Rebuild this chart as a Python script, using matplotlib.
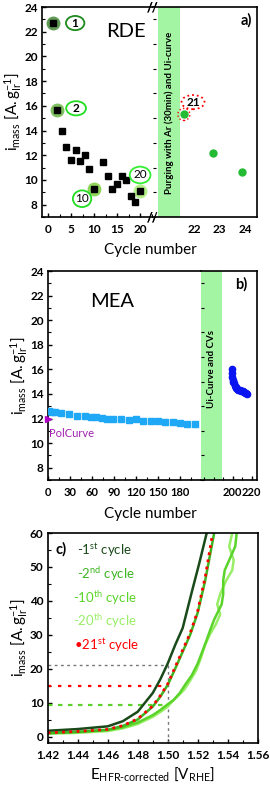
import matplotlib
matplotlib.use("Agg")
import matplotlib.pyplot as plt
from matplotlib.patches import Ellipse
from matplotlib.ticker import AutoMinorLocator, MultipleLocator, FormatStrFormatter

plt.rcParams['font.family'] = ['Lato', 'DejaVu Sans']
plt.rcParams['mathtext.fontset'] = 'custom'
plt.rcParams['mathtext.rm'] = 'Lato'
plt.rcParams['mathtext.it'] = 'Lato:italic'
plt.rcParams['mathtext.bf'] = 'Lato:bold'

# ---- panel a) RDE ----
rde_cycles = [1, 2, 3, 4, 5, 6, 7, 8, 9, 10, 12, 13, 14, 15, 16, 17, 18, 19, 20]
rde_imass = [22.7, 15.7, 14.0, 12.65, 11.6, 12.45, 11.55, 12.0, 10.9, 9.3,
             11.45, 10.3, 9.25, 9.7, 10.3, 10.0, 8.7, 8.25, 9.1]
rde_marked = [1, 2, 10, 20]
rde_after_cycles = [21.6, 22.75, 23.9]
rde_after_imass = [15.3, 12.2, 10.65]

# ---- panel b) MEA ----
mea_cycles = [1, 5, 10, 18, 28, 40, 50, 58, 66, 73, 80, 89, 99, 110, 120,
              130, 140, 150, 160, 170, 180, 190, 200]
mea_imass = [12.6, 12.55, 12.5, 12.44, 12.33, 12.17, 12.17, 12.14, 12.09, 12.03,
             11.98, 11.98, 11.95, 11.9, 11.95, 11.81, 11.79, 11.76, 11.71, 11.68,
             11.63, 11.57, 11.57]
mea_after_cycles = [199, 199.3, 199.6, 200, 200.5, 201, 202, 203, 204, 205, 206,
                    207, 208, 209, 210, 211, 212, 213, 214, 215]
mea_after_imass = [16.0, 15.7, 15.4, 15.15, 15.0, 14.85, 14.65, 14.55, 14.45, 14.4,
                   14.35, 14.3, 14.28, 14.25, 14.22, 14.2, 14.15, 14.1, 14.05, 14.0]
polcurve_cycle = [0]
polcurve_imass = [11.95]

# ---- panel c) polarisation curves ----
e_1st = [1.420, 1.440, 1.460, 1.470, 1.480, 1.490, 1.495, 1.500, 1.505, 1.510,
         1.516, 1.521, 1.526]
i_1st = [1.7, 2.2, 3.0, 4.5, 7.3, 12.8, 16.8, 21.5, 27.0, 32.0, 42.5, 51.0, 60.0]
e_2nd = [1.420, 1.440, 1.460, 1.470, 1.480, 1.490, 1.495, 1.500, 1.505, 1.510,
         1.515, 1.520, 1.525, 1.531]
i_2nd = [1.0, 1.4, 2.0, 3.1, 5.0, 8.8, 11.7, 15.2, 20.0, 25.0, 30.0, 36.5, 46.0, 60.0]
e_10th = [1.420, 1.440, 1.460, 1.470, 1.480, 1.490, 1.495, 1.500, 1.504, 1.508,
          1.512, 1.516, 1.520, 1.523, 1.526, 1.528, 1.531, 1.536, 1.537, 1.537,
          1.538, 1.541, 1.545, 1.546]
i_10th = [1.0, 1.3, 1.9, 2.7, 4.1, 6.3, 7.8, 9.5, 10.8, 12.8, 15.5, 18.0, 21.5,
          25.0, 28.5, 31.0, 34.5, 39.0, 42.0, 46.0, 49.0, 52.0, 56.0, 60.0]
e_20th = [1.420, 1.440, 1.460, 1.470, 1.480, 1.490, 1.495, 1.500, 1.503, 1.507,
          1.511, 1.515, 1.519, 1.522, 1.525, 1.528, 1.532, 1.535, 1.533, 1.535,
          1.539, 1.543, 1.544, 1.541, 1.543]
i_20th = [0.8, 1.1, 1.6, 2.4, 3.7, 5.8, 7.2, 8.8, 10.3, 12.0, 13.8, 16.5, 19.5,
          23.0, 27.0, 30.0, 33.0, 36.0, 39.0, 42.0, 46.0, 49.0, 52.0, 56.0, 60.0]
e_21st = [1.420, 1.440, 1.460, 1.470, 1.480, 1.490, 1.495, 1.500, 1.505, 1.510,
          1.515, 1.520, 1.525, 1.530]
i_21st = [1.1, 1.5, 2.1, 3.2, 5.2, 9.0, 12.0, 15.5, 20.5, 25.5, 30.5, 37.0, 47.0, 60.0]
e_ref = 1.50
i_ref_1st, i_ref_21st, i_ref_10th = 21, 15, 9.3

c_1st = '#1a4a1a'
c_2nd = '#3cb521'
c_10th = '#5ad42a'
c_20th = '#98ee66'
band = '#a3f5a3'
ylab = r'$\mathregular{i_{mass}\ [A.g_{Ir}^{-1}]}$'
TICK = 8.5
LAB = 11


def style(ax, xpad=5):
    ax.tick_params(direction='in', length=3, width=1, labelsize=TICK, pad=3)
    ax.tick_params(axis='x', pad=xpad)
    ax.tick_params(which='minor', direction='in', length=2, width=0.8)
    for s in ax.spines.values():
        s.set_linewidth(1.2)
    for lab in ax.get_xticklabels() + ax.get_yticklabels():
        lab.set_fontweight('bold')


def tag(ax, x, y, txt, w, h, col, bold=False, ls='-'):
    ax.add_patch(Ellipse((x, y), w, h, fill=False, ec=col, lw=1.3, ls=ls, zorder=4))
    ax.text(x, y, txt, fontsize=8.5, fontweight='bold' if bold else 'normal',
            ha='center', va='center', zorder=5)


fig = plt.figure(figsize=(2.7, 7.88), dpi=100)
W, H = 270.0, 788.0


def rect(x0, x1, y0, y1):
    return [x0 / W, 1 - y1 / H, (x1 - x0) / W, (y1 - y0) / H]


# ================= a) =================
a1 = fig.add_axes(rect(42, 153, 7, 217))
a2 = fig.add_axes(rect(153, 257, 7, 217), sharey=a1)
a1.set_xlim(-1.3, 22.8)
a2.set_xlim(20.39, 24.47)
a1.set_ylim(7, 24)
halo_cols = ['#5f9b55', '#7dbf5e', '#8fd65a', '#b4f08a']
for cyc, col in zip(rde_marked, halo_cols):
    k = rde_cycles.index(cyc)
    a1.plot(rde_cycles[k], rde_imass[k], 'o', ms=9, color=col, zorder=2)
a1.plot(rde_cycles, rde_imass, 's', ms=4.5, color='black', zorder=3)
a2.axvspan(20.59, 21.45, color=band, lw=0, zorder=0)
a2.plot(rde_after_cycles, rde_after_imass, 'o', ms=5, color='#22bb33', zorder=3)
a2.scatter(rde_after_cycles[:1], rde_after_imass[:1], s=75, facecolors='none',
           edgecolors='red', linewidths=1.0, linestyles=':', zorder=3)

a1.spines['right'].set_visible(False)
a2.spines['left'].set_visible(False)
a2.tick_params(axis='y', left=False, labelleft=False)
a1.xaxis.set_major_locator(MultipleLocator(5))
a1.xaxis.set_minor_locator(AutoMinorLocator(2))
a1.yaxis.set_major_locator(MultipleLocator(2))
a1.yaxis.set_minor_locator(AutoMinorLocator(2))
a2.set_xticks([22, 23, 24])
style(a1)
style(a2)
a2.tick_params(axis='x', length=0)
a1.set_ylabel(ylab, fontsize=LAB, labelpad=0)
fig.text(150 / W, 1 - 250 / H, 'Cycle number', ha='center', va='center', fontsize=LAB)

for ax, xx in ((a1, 1.0), (a2, 0.0)):
    for yy in (0.0, 1.0):
        ax.text(xx, yy, '//', transform=ax.transAxes, ha='center', va='center',
                fontsize=9, fontweight='bold', clip_on=False, zorder=5)

a2.text(21.02, 15.4, 'Purging with Ar (30min) and Ui-curve', rotation=90,
        ha='center', va='center', fontsize=7, fontweight='bold')
a1.text(17.0, 22.05, 'RDE', fontsize=14.5, ha='center', va='center')
a2.text(0.9, 0.935, 'a)', transform=a2.transAxes, fontsize=10.5, fontweight='bold',
        ha='center', va='center')

tag(a1, 5.9, 22.7, '1', 4.0, 1.15, '#1e8a1e', bold=True)
tag(a1, 6.1, 15.8, '2', 4.3, 1.15, '#22dd22', bold=True)
tag(a1, 7.4, 8.48, '10', 4.0, 1.35, '#22dd22')
tag(a1, 20.0, 10.4, '20', 4.5, 1.35, '#33ee33')
tag(a2, 21.96, 16.3, '21', 0.9, 1.15, 'red', bold=True, ls=':')

# ================= b) =================
b1 = fig.add_axes(rect(48, 201, 271, 480))
b2 = fig.add_axes(rect(201, 257, 271, 480), sharey=b1)
b1.set_xlim(0, 208.7)
b2.set_xlim(166.6, 225.6)
b1.set_ylim(7, 24)
b1.plot(mea_cycles, mea_imass, 's', ms=4.5, color='#1ea8f5', zorder=3)
b1.plot(polcurve_cycle, polcurve_imass, '>', ms=5, color='#b000c8', zorder=4,
        clip_on=False)
b1.text(2, 10.8, 'PolCurve', color='#a020b0', fontsize=8, va='center')
b2.axvspan(166.6, 188.7, color=band, lw=0, zorder=0)
b2.plot(mea_after_cycles, mea_after_imass, 'o', ms=4.5, color='#0a14f0', zorder=3)
b2.text(177.6, 16.0, 'Ui-Curve and CVs', rotation=90, ha='center', va='center',
        fontsize=7, fontweight='bold')
b1.spines['right'].set_visible(False)
b2.spines['left'].set_visible(False)
b2.tick_params(axis='y', left=False, labelleft=False)
b1.set_xticks(range(0, 181, 30))
b1.xaxis.set_minor_locator(AutoMinorLocator(2))
b2.set_xticks([200, 220])
b2.xaxis.set_minor_locator(MultipleLocator(10))
b1.yaxis.set_major_locator(MultipleLocator(2))
b1.yaxis.set_minor_locator(AutoMinorLocator(2))
style(b1)
style(b2)
b1.tick_params(axis='x', labelsize=8)
b2.tick_params(axis='x', labelsize=8)
b1.set_ylabel(ylab, fontsize=LAB, labelpad=0)
fig.text(150 / W, 1 - 514 / H, 'Cycle number', ha='center', va='center', fontsize=LAB)
b1.text(0.42, 0.855, 'MEA', transform=b1.transAxes, fontsize=14.5,
        ha='center', va='center')
b2.text(0.72, 0.935, 'b)', transform=b2.transAxes, fontsize=10.5, fontweight='bold',
        ha='center', va='center')

# ================= c) =================
c = fig.add_axes(rect(47.7, 257.7, 533, 743.3))
c.set_xlim(1.42, 1.56)
c.set_ylim(-2, 60)
ybot = c.get_ylim()[0]
c.plot([1.42, e_ref], [i_ref_1st, i_ref_1st], ls=(0, (2, 2.5)), color='#777777', lw=1)
c.plot([e_ref, e_ref], [ybot, i_ref_1st], ls=(0, (2, 2.5)), color='#777777', lw=1)
c.plot([1.42, e_ref - 0.002], [i_ref_21st, i_ref_21st], ls=(0, (1.5, 3)),
       color='red', lw=1.6)
c.plot([1.42, e_ref - 0.003], [i_ref_10th, i_ref_10th], ls=(0, (2, 2.5)),
       color=c_10th, lw=1.6)
c.plot(e_20th, i_20th, color=c_20th, lw=1.8)
c.plot(e_10th, i_10th, color=c_10th, lw=1.8)
c.plot(e_2nd, i_2nd, color=c_2nd, lw=1.8)
c.plot(e_1st, i_1st, color=c_1st, lw=1.8)
c.plot(e_21st, i_21st, ls=(0, (1, 1.6)), color='red', lw=2.0)
c.xaxis.set_major_locator(MultipleLocator(0.02))
c.xaxis.set_minor_locator(AutoMinorLocator(2))
c.set_yticks(range(0, 61, 10))
c.yaxis.set_minor_locator(MultipleLocator(5))
c.xaxis.set_major_formatter(FormatStrFormatter('%.2f'))
style(c, xpad=5)
c.set_ylabel(ylab, fontsize=LAB, labelpad=0)
c.set_xlabel('$\\mathregular{E_{HFR\u2010corrected}\\ [V_{RHE}]}$', fontsize=LAB,
             labelpad=3)
leg = [('-1$^{\\mathregular{st}}$ cycle', c_1st, 0.14, 0.92),
       ('-2$^{\\mathregular{nd}}$ cycle', c_2nd, 0.14, 0.807),
       ('-10$^{\\mathregular{th}}$ cycle', c_10th, 0.122, 0.693),
       ('-20$^{\\mathregular{th}}$ cycle', c_20th, 0.122, 0.583),
       ('\u202221$^{\\mathregular{st}}$ cycle', 'red', 0.127, 0.468)]
for txt, col, xx, yy in leg:
    c.text(xx, yy, txt, color=col, fontsize=9.5, transform=c.transAxes, va='center')
c.text(0.035, 0.92, 'c)', transform=c.transAxes, fontsize=10.5, fontweight='bold',
       va='center')

fig.savefig('out.png', dpi=100)
